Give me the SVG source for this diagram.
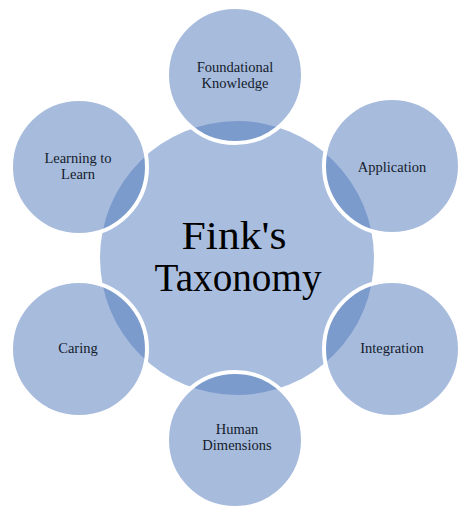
<svg xmlns="http://www.w3.org/2000/svg" width="474" height="523" viewBox="0 0 474 523">
<style>
.hub{fill:#a9bedf}
.sat{fill:rgb(80,120,187);fill-opacity:0.5;stroke:#ffffff;stroke-width:4}
.lbl{font-family:"Liberation Serif","DejaVu Serif",serif;font-size:14.5px;fill:#141b2b;text-anchor:middle}
.big{font-family:"Liberation Serif","DejaVu Serif",serif;font-size:41px;fill:#000000;text-anchor:middle}
</style>
<rect width="474" height="523" fill="#ffffff"/>
<g id="center">
<circle class="hub" cx="237" cy="258" r="137"/>
</g>
<g id="connectors"></g>
<g id="foundational">
<circle class="sat" cx="235" cy="75" r="68"/>
<text class="lbl" x="235" y="72">Foundational</text>
<text class="lbl" x="235" y="88">Knowledge</text>
</g>
<g id="application">
<circle class="sat" cx="392" cy="166" r="68"/>
<text class="lbl" x="392" y="172">Application</text>
</g>
<g id="integration">
<circle class="sat" cx="392" cy="349" r="68"/>
<text class="lbl" x="392" y="353">Integration</text>
</g>
<g id="human">
<circle class="sat" cx="235" cy="440" r="68"/>
<text class="lbl" x="237" y="434">Human</text>
<text class="lbl" x="237" y="450">Dimensions</text>
</g>
<g id="caring">
<circle class="sat" cx="79" cy="349" r="68"/>
<text class="lbl" x="78" y="353">Caring</text>
</g>
<g id="learning">
<circle class="sat" cx="79" cy="167" r="68"/>
<text class="lbl" x="78" y="163">Learning to</text>
<text class="lbl" x="78" y="179">Learn</text>
</g>
<g id="title">
<text class="big" x="234" y="249" textLength="105" lengthAdjust="spacingAndGlyphs">Fink's</text>
<text class="big" x="238" y="291" textLength="167" lengthAdjust="spacingAndGlyphs">Taxonomy</text>
</g>
</svg>
